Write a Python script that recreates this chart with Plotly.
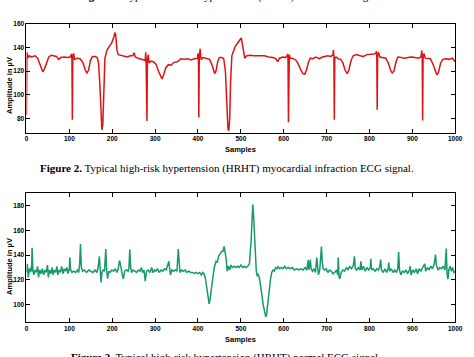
import plotly.graph_objects as go

W, H = 474, 357

# ---------------- data ----------------
top_samples = [0,1,3,6,12,20,26,30,35,38,42,47,52,58,64,70,75,80,88,95,102,105,106,107,108,110,112,118,125,132,137,141,145,149,154,160,165,168,171,174,176,178,180,183,188,193,199,204,206,208,211,214,220,228,235,242,248,251,254,260,268,274,277,278,279,281,282,284,286,290,296,302,308,313,316,320,325,331,337,344,352,360,368,376,384,392,399,400,401,402,403,405,407,412,420,427,432,436,439,442,446,450,456,460,464,467,470,472,474,476,479,483,487,493,499,501,504,509,514,522,530,538,546,555,565,575,582,586,590,598,604,608,609,610,611,612,613,615,620,628,634,640,645,649,653,658,662,668,675,683,690,696,703,710,715,716,717,718,719,722,727,733,738,743,748,752,757,762,770,778,786,794,802,810,815,816,817,818,819,821,824,830,838,844,849,853,857,862,866,874,882,890,898,906,914,920,922,923,924,925,927,930,936,942,948,953,957,961,966,971,978,986,993,1000]
top_values = [83,136,131,133,132,133,131,127,121,119.5,122,128,132,133.5,133,132.5,130,131.5,132,131.5,132,134.5,130,79,133,135,130,131,130.5,127,121,118.5,121,129,132.5,132.5,131.5,127,110,80,70.5,75,105,131,138,141,144,149,152.5,151,138,134,133.5,133,132,133,133,135.5,132,131,130.5,129.5,129,136,130,78,129,134,127,128.5,128,126,120,115,113.5,117,123,125.5,125,127.5,128,130.5,130,130.5,129.5,130.5,131,135,131,81,131,139,130,131.5,130.5,130,126,121,118,120,128,131.5,131.5,130.5,120,95,71,70,80,110,133,137,141,144,147.5,148,142,131,133,133.5,133,133,132.5,133,132,131.5,130.5,128,131,132,131.5,133,134.5,131,77,130,134,131,131,129.5,126,121,118,117.5,121,128,131,130.5,132,130.5,132,132.5,133,132.5,134,138,133,79,131,132,130.5,130,127,121,118,121,129,133,134,133,132.5,134,134,134.5,135,137,133,87.5,133,136,132,131.5,131,127,121,118.5,120,128,132,131.5,131,131.5,132,131.5,131,132,137.5,133,78.5,131,135,131,130.5,130.5,126,120,117,119,127,130,130.5,130,131,128]

bottom_samples = [0,2,4,6,8,10,12,13,15,17,20,23,26,28,31,34,37,40,43,46,49,51,54,57,60,62,65,68,71,73,76,79,82,85,88,91,94,97,100,101,103,106,110,115,119,122,124,126,128,131,135,140,145,150,155,160,164,167,170,172,174,176,179,182,185,187,189,192,195,199,203,207,211,214,217,219,221,224,226,229,233,237,239,241,243,245,249,253,257,261,265,268,271,274,277,280,284,288,292,295,299,302,306,310,314,318,322,326,329,332,334,336,339,343,347,351,354,356,358,362,366,370,374,378,383,388,392,396,400,404,408,411,414,417,420,423,426,428,431,434,438,442,445,448,452,455,458,461,463,466,468,471,474,477,480,484,488,492,496,500,504,508,512,516,520,522,524,526,528,530,532,534,536,538,540,543,546,549,552,555,558,560,563,566,569,572,575,578,581,584,587,590,594,598,602,606,610,615,620,625,630,635,640,645,650,654,657,659,662,664,667,671,674,677,679,681,684,687,688,690,692,695,699,703,707,711,715,719,723,726,727,729,731,734,738,742,746,750,754,758,762,765,767,770,774,778,780,782,786,790,794,798,802,803,805,809,813,817,821,824,826,828,832,836,840,844,845,847,851,855,859,863,866,868,870,873,877,881,885,889,893,895,897,901,905,909,912,916,920,924,929,931,935,939,943,947,951,954,956,960,964,968,972,976,979,981,983,985,988,991,994,997,1000]
bottom_values = [126,133,122,129,126,130,127,146,128,124,128,126,131,122,128,125,129,124,128,126,132,122,128,125,130,124,128,126,131,124,128,126,131,125,129,127,130,125,129,138,128,126,127,126,128,126,133,149,130,127,128,126,128,127,126,128,126,130,139,128,118,126,128,127,145,128,121,127,126,128,127,129,126,129,135.5,133,128,123,121,127,128,127,130,144.5,130,126,128,127,126,128,127,130,126,128,119,127,128,126,130,126,128,127,129,126,128,127,129,128,131,135,129,124,128,127,128,127,145,130,126,128,127,128,126,127,126,126,125,126,125,126,124,126,125,122,115,108,100.5,104,112,124,130,135,134,139,141,143,143,147,143,136,127,131,128,132,130,131,130,131,130,132,130,131,130,131,133,140,152,168,181,170,150,132,127,123,125,122,116,108,100,94,90,92,102,112,120,126,128,127,130,129,131,129,130,129,131,129,130,129,130,128,129,128,129,128,130,128,136,128,136.5,129,127,129,126,138,126,124,128,140,147,134,129,128,129,126,128,127,125,126,128,124,138,122,121,126,128,127,130,128,131,129,131,139,129,128,130,128,135,128,131,127,130,128,130,137,128,129,127,129,128,131,136.5,128,126,129,126,130,134,127,129,126,128,126,129,142.7,128,124,127,126,128,125,128,131,124,128,126,129,125,129,127,130,133,127,130,128,131,129,133,140.5,132,128,130,129,131,128,145.3,125,120.5,128,131,127,130,126,127]

x_ticks = [0, 100, 200, 300, 400, 500, 600, 700, 800, 900, 1000]
top_y_ticks = [80, 100, 120, 140, 160]
bottom_y_ticks = [100, 120, 140, 160, 180]

top_caption = "<b>Figure 2.</b> Typical high-risk hypertension (HRHT) myocardial infraction ECG signal."
bottom_caption = "<b>Figure 3.</b> Typical high-risk hypertension (HRHT) normal ECG signal."
cut_caption = "<b>Figure 1.</b> Typical low-risk hypertension (LRHT) normal ECG signal."

# ---------------- layout helpers ----------------
def px_x(p):
    return p / W

def px_y(p):
    return 1 - p / H

x_left, x_right = 25, 463
top_t, top_b = 20, 130
bot_t, bot_b = 191, 322

fig = go.Figure()
fig.add_trace(go.Scatter(x=top_samples, y=top_values, mode="lines",
                         line=dict(color="#dc1414", width=1.5),
                         xaxis="x", yaxis="y", showlegend=False, hoverinfo="skip"))
fig.add_trace(go.Scatter(x=bottom_samples, y=bottom_values, mode="lines",
                         line=dict(color="#17996b", width=1.5),
                         xaxis="x2", yaxis="y2", showlegend=False, hoverinfo="skip"))

tickfont = dict(family="Liberation Sans", size=6.5, color="black")
axis_common = dict(showline=True, linecolor="black", linewidth=1, mirror="ticks",
                   ticks="inside", ticklen=4, tickcolor="black", tickwidth=1,
                   showgrid=False, zeroline=False, tickfont=tickfont)

fig.update_layout(
    width=W, height=H,
    margin=dict(l=0, r=0, t=0, b=0),
    paper_bgcolor="white", plot_bgcolor="white",
    font=dict(family="Liberation Sans", color="black"),
    xaxis=dict(domain=[px_x(x_left), px_x(x_right)], range=[0, 1000], anchor="y",
               tickvals=x_ticks, ticktext=[f"<b>{t}</b>" for t in x_ticks], **axis_common),
    yaxis=dict(domain=[px_y(top_b), px_y(top_t)], range=[68.3, 160], anchor="x",
               tickvals=top_y_ticks, ticktext=[f"<b>{t}</b>" for t in top_y_ticks], **axis_common),
    xaxis2=dict(domain=[px_x(x_left), px_x(x_right)], range=[0, 1000], anchor="y2",
                tickvals=x_ticks, ticktext=[f"<b>{t}</b>" for t in x_ticks], **axis_common),
    yaxis2=dict(domain=[px_y(bot_b), px_y(bot_t)], range=[85.6, 190.4], anchor="x2",
                tickvals=bottom_y_ticks, ticktext=[f"<b>{t}</b>" for t in bottom_y_ticks], **axis_common),
)

title_font = dict(family="Liberation Sans", size=7.5, color="black")
cap_font = dict(family="Liberation Serif", size=11, color="black")
annos = [
    dict(text="<b>Samples</b>", x=px_x(244), y=px_y(147), font=title_font),
    dict(text="<b>Samples</b>", x=px_x(244), y=px_y(339), font=title_font),
    dict(text="<b>Amplitude in µV</b>", x=px_x(7), y=px_y(82), textangle=-90, font=title_font),
    dict(text="<b>Amplitude in µV</b>", x=px_x(7), y=px_y(265), textangle=-90, font=title_font),
    dict(text=top_caption, x=px_x(230), y=px_y(166), font=cap_font),
    dict(text=bottom_caption, x=px_x(229), y=px_y(357), font=cap_font),
    dict(text=cut_caption, x=px_x(235), y=px_y(-8), font=cap_font),
]
for a in annos:
    a.update(xref="paper", yref="paper", showarrow=False, xanchor="center", yanchor="middle")
fig.update_layout(annotations=annos)

fig.write_html("out.html", config={"displayModeBar": False},
               post_script="document.body.style.margin='0px';document.body.style.overflow='hidden';")
